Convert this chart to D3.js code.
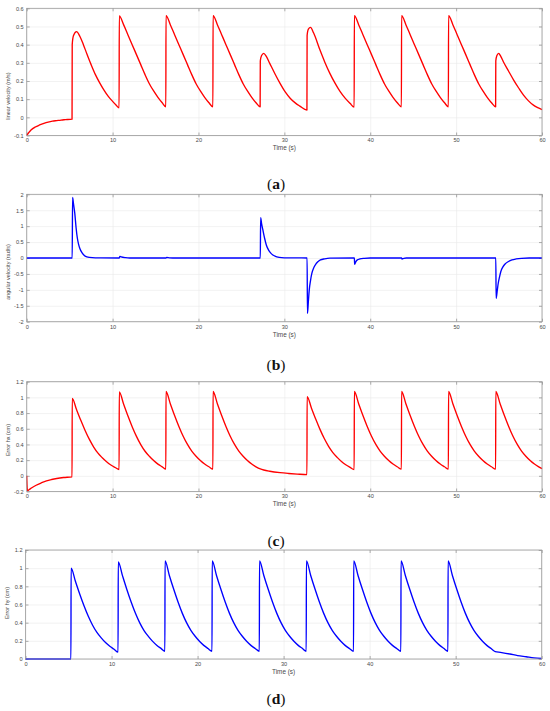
<!DOCTYPE html>
<html>
<head>
<meta charset="utf-8">
<script src="https://cdn.jsdelivr.net/npm/d3@7"></script>
<style>
    body { margin: 0; background: #ffffff; }
    #chart { width: 550px; height: 711px; }
    .tick text { font-family: "Liberation Sans", Arial, sans-serif; }
</style>
</head>
<body>
<div id="chart"></div>
<script>

// Shared time axis ticks (s)
const timeTicks = [0, 10, 20, 30, 40, 50, 60];

// Tick labels for each panel
const ticksLinear = [-0.1, 0, 0.1, 0.2, 0.3, 0.4, 0.5, 0.6];
const ticksAngular = [-2, -1.5, -1, -0.5, 0, 0.5, 1, 1.5, 2];
const ticksErrorHx = [-0.2, 0, 0.2, 0.4, 0.6, 0.8, 1, 1.2];
const ticksErrorHy = [0, 0.2, 0.4, 0.6, 0.8, 1, 1.2];

// (a) linear velocity (m/s), [time, value]
const linearVelocity = [
    [0, -0.1], [0.5, -0.07], [1, -0.053], [1.5, -0.042], [2, -0.033], [2.5, -0.026], [3, -0.021], [3.5, -0.018], [4, -0.015], [4.5, -0.013], [5.28, -0.01],
    [5.3, 0.40], [5.45, 0.45], [5.8, 0.472], [6.2, 0.445], [6.6, 0.40], [7.0, 0.35], [7.5, 0.29], [8.0, 0.235], [8.5, 0.19], [9.0, 0.15], [9.5, 0.115], [10.0, 0.088], [10.4, 0.068], [10.76, 0.052],
    [10.78, 0.558], [11.28, 0.51], [11.78, 0.455], [12.28, 0.40], [12.78, 0.345], [13.28, 0.29], [13.78, 0.235], [14.28, 0.185], [14.78, 0.145], [15.28, 0.11], [15.78, 0.08], [16.2, 0.058],
    [16.22, 0.56], [16.72, 0.51], [17.22, 0.455], [17.72, 0.40], [18.22, 0.345], [18.72, 0.29], [19.22, 0.235], [19.72, 0.185], [20.22, 0.145], [20.72, 0.11], [21.22, 0.08], [21.68, 0.058],
    [21.7, 0.56], [22.2, 0.51], [22.7, 0.455], [23.2, 0.40], [23.7, 0.345], [24.2, 0.29], [24.7, 0.235], [25.2, 0.185], [25.7, 0.145], [26.2, 0.11], [26.7, 0.08], [27.18, 0.058],
    [27.2, 0.31], [27.35, 0.34], [27.6, 0.352], [27.9, 0.335], [28.3, 0.297], [28.9, 0.24], [29.5, 0.187], [30.1, 0.14], [30.7, 0.104], [31.3, 0.078], [31.8, 0.062], [32.63, 0.04],
    [32.65, 0.45], [32.8, 0.485], [33.05, 0.495], [33.4, 0.465], [34.15, 0.37], [34.7, 0.305], [35.3, 0.242], [35.9, 0.188], [36.5, 0.141], [37.1, 0.104], [37.65, 0.077], [38.13, 0.056],
    [38.15, 0.56], [38.65, 0.51], [39.15, 0.455], [39.65, 0.40], [40.15, 0.345], [40.65, 0.29], [41.15, 0.235], [41.65, 0.185], [42.15, 0.145], [42.65, 0.11], [43.15, 0.08], [43.63, 0.058],
    [43.65, 0.56], [44.15, 0.51], [44.65, 0.455], [45.15, 0.40], [45.65, 0.345], [46.15, 0.29], [46.65, 0.235], [47.15, 0.185], [47.65, 0.145], [48.15, 0.11], [48.65, 0.08], [49.1, 0.058],
    [49.12, 0.56], [49.62, 0.51], [50.12, 0.455], [50.62, 0.40], [51.12, 0.345], [51.62, 0.29], [52.12, 0.235], [52.62, 0.185], [53.12, 0.145], [53.62, 0.11], [54.12, 0.08], [54.6, 0.058],
    [54.62, 0.31], [54.75, 0.34], [54.95, 0.352], [55.2, 0.335], [55.5, 0.306], [56.1, 0.255], [56.7, 0.205], [57.3, 0.16], [57.85, 0.122], [58.4, 0.092], [59.0, 0.067], [59.5, 0.053], [60, 0.043]
];

// (b) angular velocity (rad/s)
const angularVelocity = [
    [0, 0], [5.3, 0], [5.34, 1.9], [5.45, 1.7], [5.6, 1.4], [5.75, 0.95], [5.9, 0.62], [6.05, 0.42], [6.2, 0.29], [6.45, 0.16], [6.8, 0.06], [7.3, 0.02], [8, 0.005],
    [10.78, 0], [10.85, 0.05], [11.0, 0.035], [11.5, 0.01], [12, 0],
    [16.22, 0], [16.3, 0.015], [16.6, 0.005], [17, 0],
    [27.2, 0], [27.24, 1.27], [27.35, 1.08], [27.5, 0.88], [27.7, 0.62], [27.9, 0.41], [28.2, 0.23], [28.5, 0.13], [28.9, 0.06], [29.4, 0.02], [30, 0.005],
    [32.65, 0], [32.69, -1.74], [32.8, -1.35], [32.9, -1.0], [33.05, -0.7], [33.2, -0.48], [33.4, -0.32], [33.6, -0.22], [33.9, -0.12], [34.2, -0.06], [34.7, -0.025], [35.3, -0.005],
    [38.15, 0], [38.19, -0.2], [38.3, -0.13], [38.5, -0.06], [38.8, -0.03], [39.3, -0.01], [40, 0],
    [43.65, 0], [43.7, -0.03], [43.9, -0.01], [44.2, 0],
    [54.62, 0], [54.66, -1.27], [54.8, -1.0], [54.9, -0.8], [55.05, -0.6], [55.2, -0.43], [55.45, -0.28], [55.7, -0.19], [56.1, -0.11], [56.5, -0.06], [57, -0.03], [57.6, -0.01], [58.5, 0], [60, 0]
];

// (c) error hx (cm)
const errorHx = [
    [0, 0], [0.08, -0.19], [0.3, -0.175], [0.6, -0.152], [1.1, -0.12], [1.7, -0.09], [2.3, -0.064], [2.9, -0.047], [3.5, -0.034], [4.3, -0.022], [5.28, -0.013],
    [5.3, 0.987], [5.8, 0.845], [6.3, 0.707], [6.8, 0.578], [7.3, 0.464], [7.8, 0.367], [8.3, 0.289], [8.8, 0.23], [9.3, 0.179], [9.8, 0.138], [10.3, 0.106], [10.76, 0.08],
    [10.78, 1.07], [11.28, 0.915], [11.78, 0.765], [12.28, 0.627], [12.78, 0.503], [13.28, 0.398], [13.78, 0.313], [14.28, 0.249], [14.78, 0.194], [15.28, 0.149], [15.78, 0.114], [16.2, 0.085],
    [16.22, 1.075], [16.72, 0.92], [17.22, 0.77], [17.72, 0.63], [18.22, 0.505], [18.72, 0.40], [19.22, 0.315], [19.72, 0.25], [20.22, 0.195], [20.72, 0.15], [21.22, 0.115], [21.68, 0.085],
    [21.7, 1.075], [22.2, 0.92], [22.7, 0.77], [23.2, 0.63], [23.7, 0.505], [24.2, 0.40], [24.7, 0.315], [25.2, 0.25], [25.7, 0.195], [26.2, 0.15], [26.7, 0.115], [27.2, 0.088],
    [27.6, 0.074], [28.3, 0.058], [29.5, 0.04], [30.5, 0.03], [31.5, 0.022], [32.63, 0.015],
    [32.65, 1.01], [33.15, 0.865], [33.65, 0.724], [34.15, 0.592], [34.65, 0.475], [35.15, 0.376], [35.65, 0.296], [36.15, 0.235], [36.65, 0.183], [37.15, 0.141], [37.65, 0.108], [38.13, 0.08],
    [38.15, 1.075], [38.65, 0.92], [39.15, 0.77], [39.65, 0.63], [40.15, 0.505], [40.65, 0.40], [41.15, 0.315], [41.65, 0.25], [42.15, 0.195], [42.65, 0.15], [43.15, 0.115], [43.63, 0.085],
    [43.65, 1.075], [44.15, 0.92], [44.65, 0.77], [45.15, 0.63], [45.65, 0.505], [46.15, 0.40], [46.65, 0.315], [47.15, 0.25], [47.65, 0.195], [48.15, 0.15], [48.65, 0.115], [49.1, 0.085],
    [49.12, 1.075], [49.62, 0.92], [50.12, 0.77], [50.62, 0.63], [51.12, 0.505], [51.62, 0.40], [52.12, 0.315], [52.62, 0.25], [53.12, 0.195], [53.62, 0.15], [54.12, 0.115], [54.6, 0.085],
    [54.62, 1.075], [55.12, 0.92], [55.62, 0.77], [56.12, 0.63], [56.62, 0.505], [57.12, 0.40], [57.62, 0.315], [58.12, 0.25], [58.62, 0.195], [59.12, 0.15], [59.62, 0.115], [60, 0.092]
];

// (d) error hy (cm)
const errorHy = [
    [0, 0], [5.28, 0],
    [5.3, 1.0], [5.8, 0.856], [6.3, 0.716], [6.8, 0.586], [7.3, 0.47], [7.8, 0.372], [8.3, 0.293], [8.8, 0.233], [9.3, 0.181], [9.8, 0.14], [10.3, 0.107], [10.76, 0.075],
    [10.78, 1.07], [11.28, 0.915], [11.78, 0.765], [12.28, 0.627], [12.78, 0.503], [13.28, 0.398], [13.78, 0.313], [14.28, 0.249], [14.78, 0.194], [15.28, 0.149], [15.78, 0.114], [16.2, 0.085],
    [16.22, 1.08], [16.72, 0.92], [17.22, 0.77], [17.72, 0.63], [18.22, 0.505], [18.72, 0.40], [19.22, 0.315], [19.72, 0.25], [20.22, 0.195], [20.72, 0.15], [21.22, 0.115], [21.68, 0.085],
    [21.7, 1.08], [22.2, 0.92], [22.7, 0.77], [23.2, 0.63], [23.7, 0.505], [24.2, 0.40], [24.7, 0.315], [25.2, 0.25], [25.7, 0.195], [26.2, 0.15], [26.7, 0.115], [27.18, 0.085],
    [27.2, 1.08], [27.7, 0.92], [28.2, 0.77], [28.7, 0.63], [29.2, 0.505], [29.7, 0.40], [30.2, 0.315], [30.7, 0.25], [31.2, 0.195], [31.7, 0.15], [32.2, 0.115], [32.63, 0.085],
    [32.65, 1.08], [33.15, 0.92], [33.65, 0.77], [34.15, 0.63], [34.65, 0.505], [35.15, 0.40], [35.65, 0.315], [36.15, 0.25], [36.65, 0.195], [37.15, 0.15], [37.65, 0.115], [38.13, 0.085],
    [38.15, 1.08], [38.65, 0.92], [39.15, 0.77], [39.65, 0.63], [40.15, 0.505], [40.65, 0.40], [41.15, 0.315], [41.65, 0.25], [42.15, 0.195], [42.65, 0.15], [43.15, 0.115], [43.63, 0.085],
    [43.65, 1.08], [44.15, 0.92], [44.65, 0.77], [45.15, 0.63], [45.65, 0.505], [46.15, 0.40], [46.65, 0.315], [47.15, 0.25], [47.65, 0.195], [48.15, 0.15], [48.65, 0.115], [49.1, 0.085],
    [49.12, 1.08], [49.62, 0.92], [50.12, 0.77], [50.62, 0.63], [51.12, 0.505], [51.62, 0.40], [52.12, 0.315], [52.62, 0.25], [53.12, 0.195], [53.62, 0.15], [54.12, 0.115], [54.6, 0.082],
    [55.2, 0.073], [56.3, 0.055], [57.2, 0.038], [58.2, 0.025], [59.1, 0.013], [60, 0.006]
];


// One MATLAB-style axes box with a single trace
class TracePanel {

    constructor(svg, config, data) {
        this.svg = svg;
        this.config = config;
        this.data = data;
        this.initVis();
    }

    initVis() {
        let vis = this;
        let c = vis.config;

        vis.width = c.right - c.left;
        vis.height = c.bottom - c.top;

        vis.g = vis.svg.append("g")
            .attr("transform", `translate(${c.left},${c.top})`);

        // Scales
        vis.x = d3.scaleLinear().domain([0, 60]).range([0, vis.width]);
        vis.y = d3.scaleLinear().domain(d3.extent(c.yTicks)).range([vis.height, 0]);

        // Light grid lines
        vis.g.append("g")
            .attr("class", "grid")
            .attr("transform", `translate(0,${vis.height})`)
            .call(d3.axisBottom(vis.x).tickValues(timeTicks).tickSize(-vis.height).tickFormat(""));

        vis.g.append("g")
            .attr("class", "grid")
            .call(d3.axisLeft(vis.y).tickValues(c.yTicks).tickSize(-vis.width).tickFormat(""));

        vis.g.selectAll(".grid line").attr("stroke", "#e9e9e9").attr("stroke-width", 0.6);
        vis.g.selectAll(".grid .domain").remove();

        // Axes with inward ticks (bottom and left carry labels)
        vis.xAxis = d3.axisBottom(vis.x).tickValues(timeTicks)
            .tickSizeInner(-3).tickSizeOuter(0).tickPadding(3)
            .tickFormat(d => String(d));
        vis.yAxis = d3.axisLeft(vis.y).tickValues(c.yTicks)
            .tickSizeInner(-3).tickSizeOuter(0).tickPadding(3)
            .tickFormat(d => String(d));

        vis.g.append("g")
            .attr("class", "x-axis")
            .attr("transform", `translate(0,${vis.height})`)
            .call(vis.xAxis);

        vis.g.append("g")
            .attr("class", "y-axis")
            .call(vis.yAxis);

        // Mirror ticks on top and right
        vis.g.append("g")
            .attr("class", "x-axis")
            .call(d3.axisTop(vis.x).tickValues(timeTicks).tickSizeInner(-3).tickSizeOuter(0).tickFormat(""));

        vis.g.append("g")
            .attr("class", "y-axis")
            .attr("transform", `translate(${vis.width},0)`)
            .call(d3.axisRight(vis.y).tickValues(c.yTicks).tickSizeInner(-3).tickSizeOuter(0).tickFormat(""));

        vis.g.selectAll(".x-axis .domain, .y-axis .domain").remove();
        vis.g.selectAll(".x-axis line, .y-axis line").attr("stroke", "#8a8a8a").attr("stroke-width", 0.7);
        vis.g.selectAll(".x-axis text, .y-axis text")
            .attr("fill", "#4a4a4a")
            .attr("font-size", "5.6px");

        vis.updateVis();
    }

    updateVis() {
        let vis = this;
        let c = vis.config;

        // Trace
        let line = d3.line()
            .x(d => vis.x(d[0]))
            .y(d => vis.y(d[1]))
            .curve(d3.curveMonotoneX);

        vis.g.append("path")
            .datum(vis.data)
            .attr("fill", "none")
            .attr("stroke", c.color)
            .attr("stroke-width", 1.35)
            .attr("stroke-linejoin", "round")
            .attr("d", line);

        // Box outline
        vis.g.append("rect")
            .attr("width", vis.width)
            .attr("height", vis.height)
            .attr("fill", "none")
            .attr("stroke", "#9a9a9a")
            .attr("stroke-width", 0.8);

        // Axis titles
        vis.g.append("text")
            .attr("x", vis.x(30))
            .attr("y", vis.height + 15)
            .attr("text-anchor", "middle")
            .attr("font-family", "Liberation Sans, Arial, sans-serif")
            .attr("font-size", "6.4px")
            .attr("fill", "#4a4a4a")
            .text("Time (s)");

        vis.g.append("text")
            .attr("transform", `translate(${-16.5},${c.yLabelY - c.top}) rotate(-90)`)
            .attr("text-anchor", "middle")
            .attr("font-family", "Liberation Sans, Arial, sans-serif")
            .attr("font-size", "5.5px")
            .attr("fill", "#4a4a4a")
            .text(c.yLabel);

        // Sub-figure tag, e.g. (a)
        let tag = vis.svg.append("text")
            .attr("x", 276)
            .attr("y", c.tagY)
            .attr("text-anchor", "middle")
            .attr("font-family", "Liberation Serif, DejaVu Serif, serif")
            .attr("font-size", "15.5px")
            .attr("fill", "#111");
        tag.append("tspan").text("(");
        tag.append("tspan").attr("font-weight", "bold").text(c.tag);
        tag.append("tspan").text(")");
    }
}

// Build the figure
let svg = d3.select("#chart").append("svg")
    .attr("width", 550)
    .attr("height", 711);

new TracePanel(svg, {
    left: 26.7, right: 542, top: 8.3, bottom: 135.5,
    yTicks: ticksLinear, color: "#ff0000",
    yLabel: "linear velocity (m/s)", yLabelY: 96,
    tag: "a", tagY: 189
}, linearVelocity);

new TracePanel(svg, {
    left: 26.7, right: 542, top: 194.3, bottom: 321.7,
    yTicks: ticksAngular, color: "#0000ff",
    yLabel: "angular velocity (rad/s)", yLabelY: 272,
    tag: "b", tagY: 370
}, angularVelocity);

new TracePanel(svg, {
    left: 26.7, right: 542, top: 381.7, bottom: 491.5,
    yTicks: ticksErrorHx, color: "#ff0000",
    yLabel: "Error hx (cm)", yLabelY: 440,
    tag: "c", tagY: 546
}, errorHx);

new TracePanel(svg, {
    left: 25.5, right: 541.7, top: 550, bottom: 659,
    yTicks: ticksErrorHy, color: "#0000ff",
    yLabel: "Error hy (cm)", yLabelY: 603,
    tag: "d", tagY: 704
}, errorHy);

</script>
</body>
</html>
